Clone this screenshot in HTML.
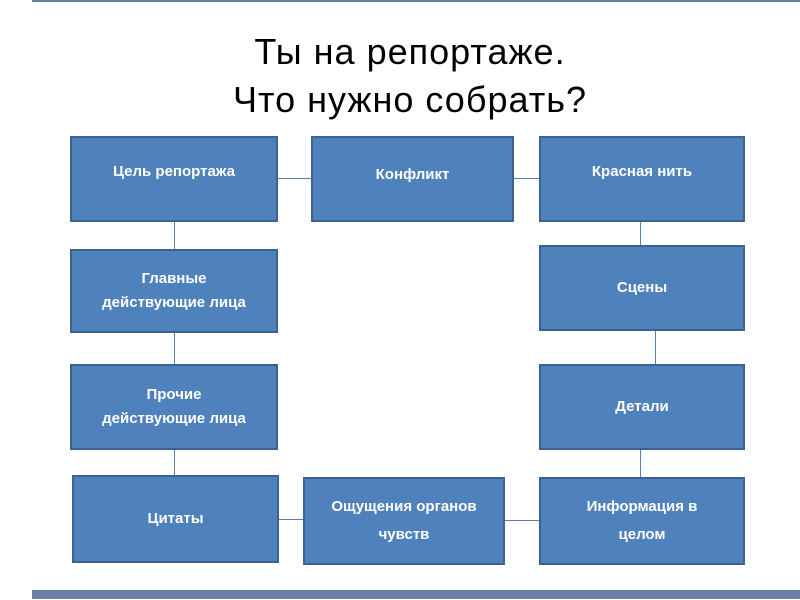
<!DOCTYPE html>
<html><head><meta charset="utf-8"><style>
body{margin:0;width:800px;height:600px;background:#fff;position:relative;overflow:hidden;font-family:"Liberation Sans","Noto Sans CJK SC",sans-serif}
.b{position:absolute;background:#4f81bd;border:2px solid #3b6390;box-sizing:border-box;color:#fff;font-weight:bold;font-size:15px;display:flex;align-items:center;justify-content:center;text-align:center;line-height:24px}
.l{position:absolute;background:#5b7ea8}
.t{position:absolute;left:0;width:820px;text-align:center;font-size:36px;letter-spacing:1px;color:#000;line-height:40px}
</style></head><body>
<div class="l" style="left:32px;top:0;width:768px;height:2px;background:#6a7fa3"></div>
<div class="l" style="left:32px;top:590px;width:768px;height:9px;background:#6a7fa3"></div>
<div class="t" style="top:32px">Ты на репортаже.</div>
<div class="t" style="top:80px">Что нужно собрать?</div>
<div class="l" style="left:278px;top:178px;width:33px;height:1px"></div>
<div class="l" style="left:514px;top:178px;width:25px;height:1px"></div>
<div class="l" style="left:174px;top:222px;width:1px;height:27px"></div>
<div class="l" style="left:174px;top:333px;width:1px;height:31px"></div>
<div class="l" style="left:174px;top:450px;width:1px;height:25px"></div>
<div class="l" style="left:640px;top:222px;width:1px;height:23px"></div>
<div class="l" style="left:655px;top:331px;width:1px;height:33px"></div>
<div class="l" style="left:640px;top:450px;width:1px;height:27px"></div>
<div class="l" style="left:279px;top:519px;width:24px;height:1px"></div>
<div class="l" style="left:505px;top:520px;width:34px;height:1px"></div>
<div class="b" style="left:70px;top:136px;width:208px;height:86px;padding-bottom:14px">Цель репортажа</div>
<div class="b" style="left:311px;top:136px;width:203px;height:86px;padding-bottom:8px">Конфликт</div>
<div class="b" style="left:539px;top:136px;width:206px;height:86px;padding-bottom:14px">Красная нить</div>
<div class="b" style="left:70px;top:249px;width:208px;height:84px">Главные<br>действующие лица</div>
<div class="b" style="left:539px;top:245px;width:206px;height:86px">Сцены</div>
<div class="b" style="left:70px;top:364px;width:208px;height:86px">Прочие<br>действующие лица</div>
<div class="b" style="left:539px;top:364px;width:206px;height:86px">Детали</div>
<div class="b" style="left:72px;top:475px;width:207px;height:88px">Цитаты</div>
<div class="b" style="left:303px;top:477px;width:202px;height:88px;line-height:28px">Ощущения органов<br>чувств</div>
<div class="b" style="left:539px;top:477px;width:206px;height:88px;line-height:28px">Информация в<br>целом</div>
</body></html>
